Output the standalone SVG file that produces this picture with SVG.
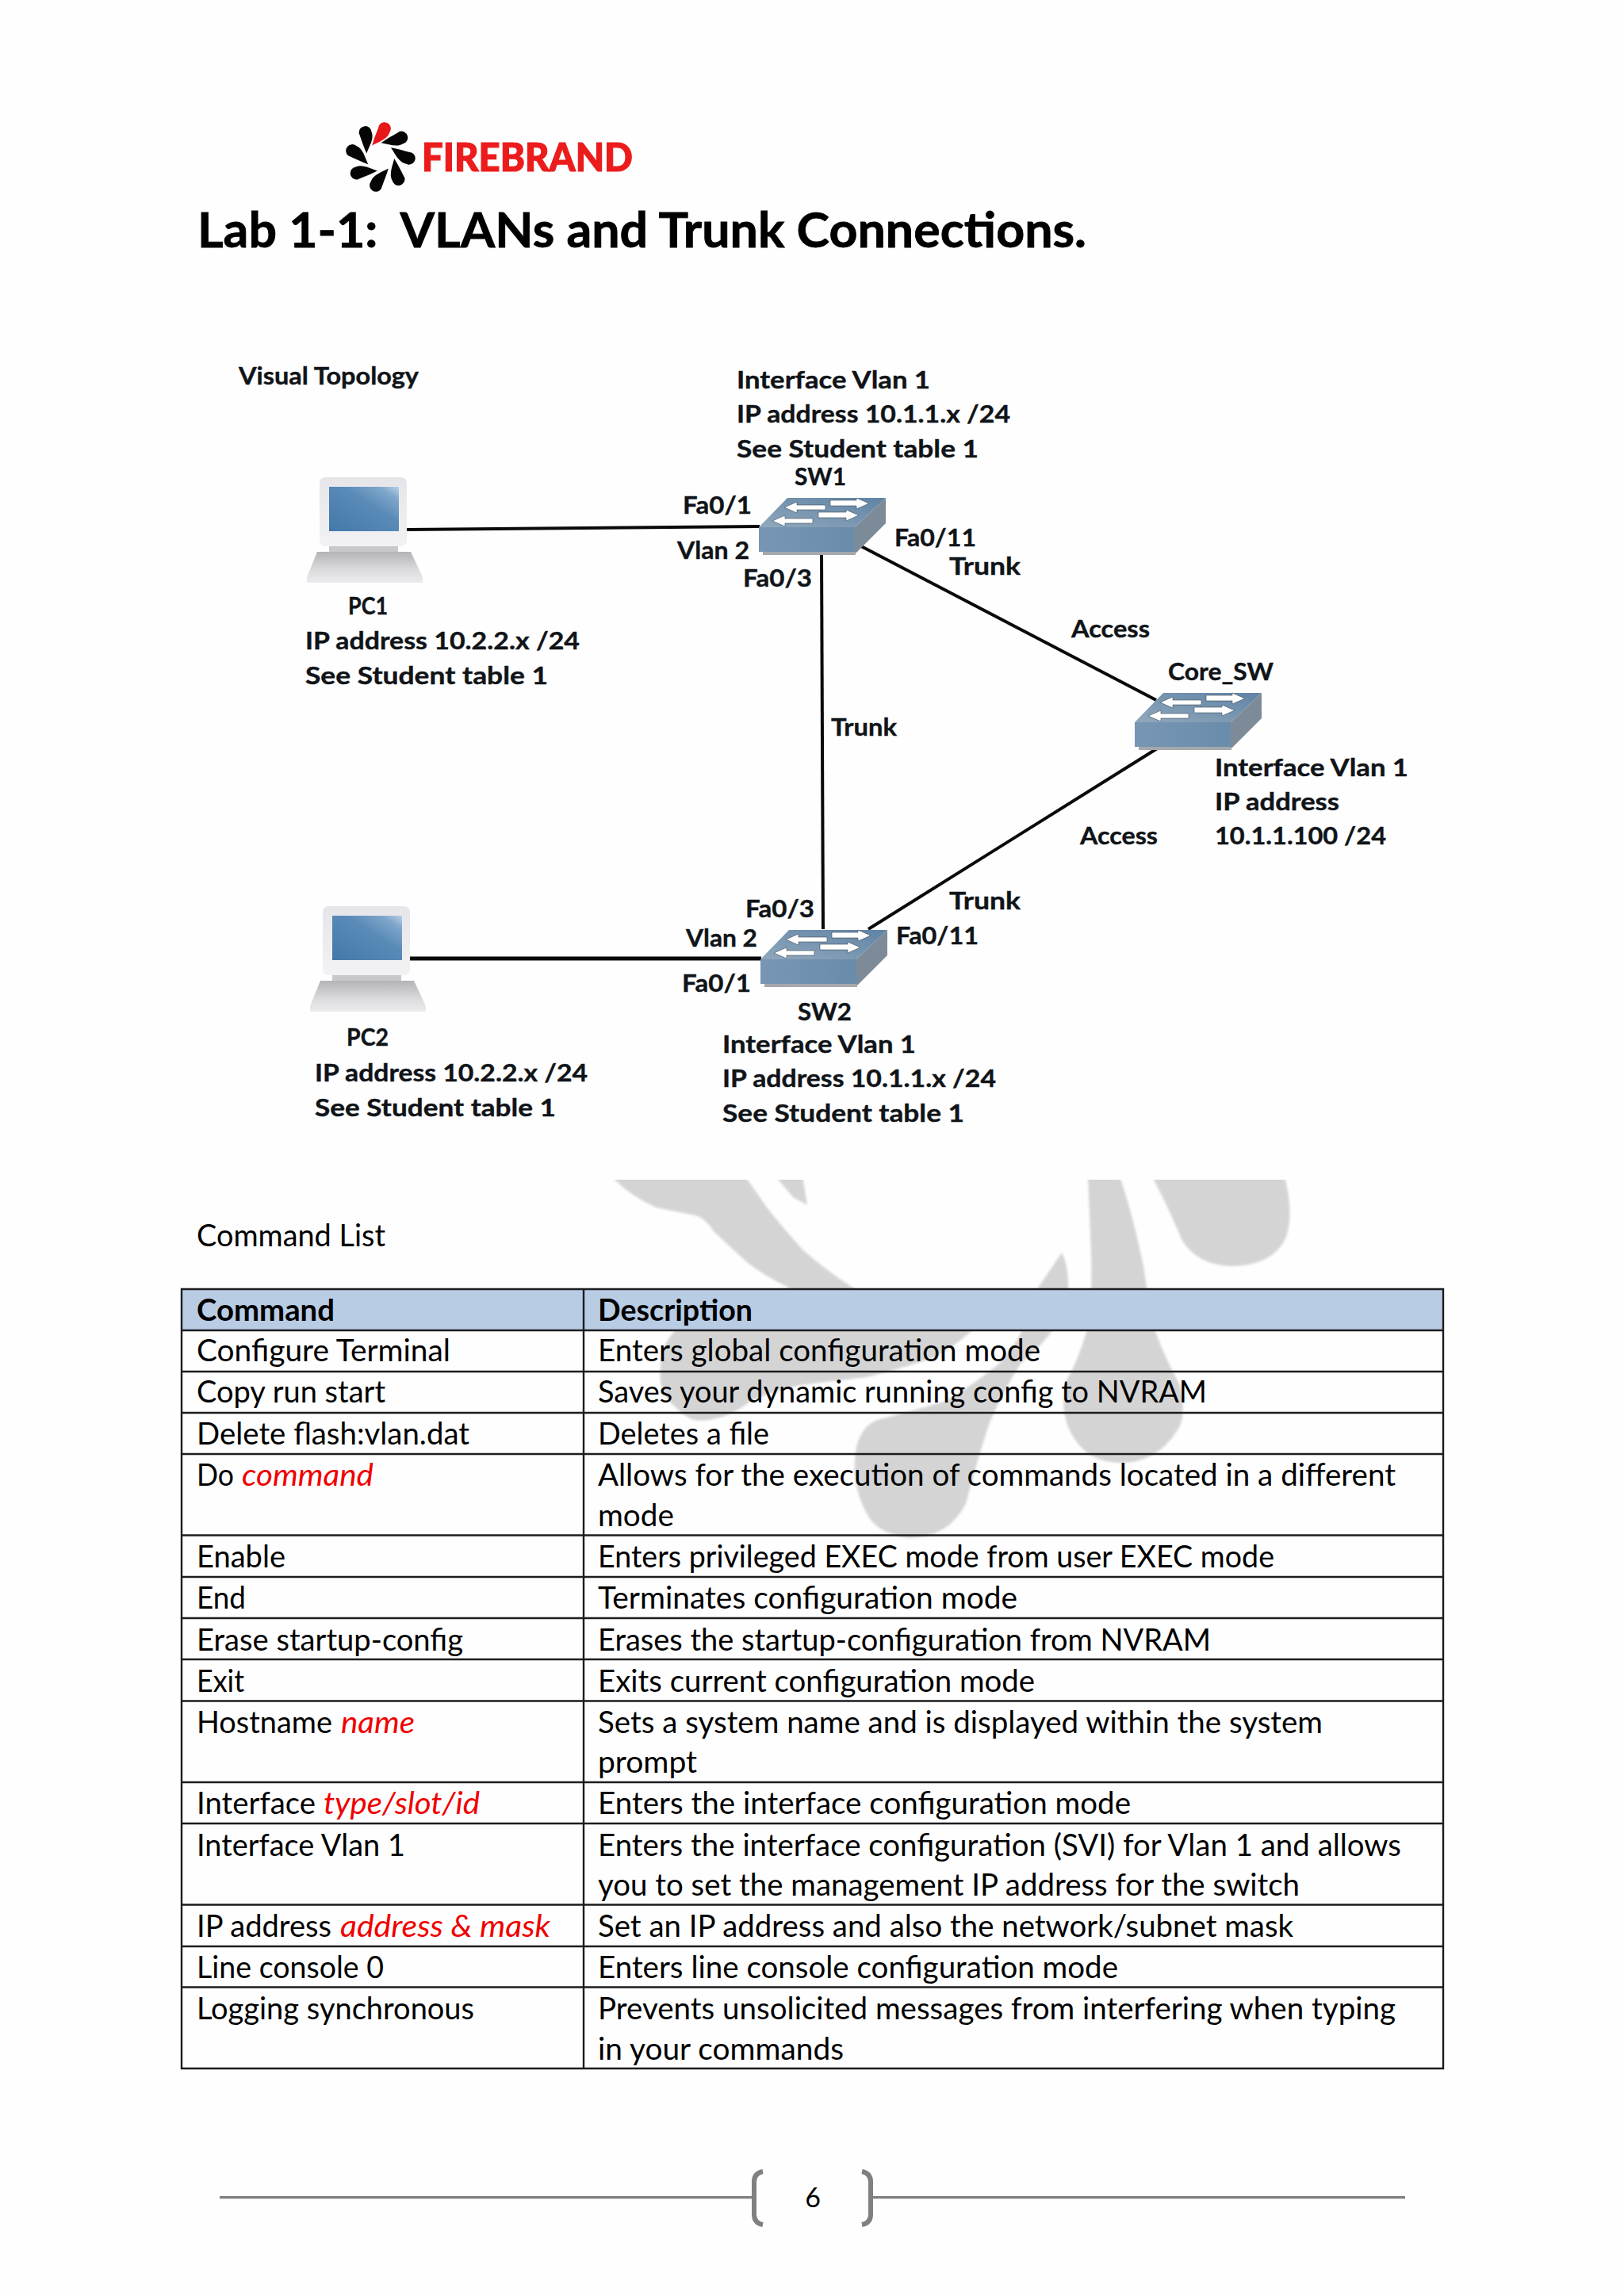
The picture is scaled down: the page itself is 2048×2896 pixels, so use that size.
<svg xmlns="http://www.w3.org/2000/svg" xmlns:xlink="http://www.w3.org/1999/xlink" width="2048" height="2896" viewBox="0 0 2048 2896">
<style>
text{font-family:"Lato","Liberation Sans",sans-serif;fill:#000}
.b{font-size:38px}
.h{font-size:38px;font-weight:700}
.r{font-size:38px;font-style:italic;fill:#f00000}
.n{font-size:31px;font-weight:700;fill:#101418;stroke:#101418;stroke-width:.4}
.rule{stroke:#1c1c20;stroke-width:2.4;fill:none}
.wm{fill:#d4d4d5}
.link{stroke:#0a0a0a;fill:none}
.foot{stroke:#808082;fill:none}
.arw{fill:#fff;stroke:#3c4a58;stroke-width:.6}
</style>
<defs>
<filter id="soft" x="-5%" y="-5%" width="110%" height="110%"><feGaussianBlur stdDeviation="1.6"/></filter>
<clipPath id="wmclip"><rect x="0" y="1488" width="2048" height="600"/></clipPath>
<linearGradient id="scr" x1="0" y1="1" x2="1" y2="0"><stop offset="0" stop-color="#4378a8"/><stop offset=".6" stop-color="#5a8bb8"/><stop offset=".85" stop-color="#7fa6cb"/><stop offset="1" stop-color="#b9d0e6"/></linearGradient>
<linearGradient id="mon" x1="0" y1="0" x2="0" y2="1"><stop offset="0" stop-color="#e6e6ea"/><stop offset="1" stop-color="#f2f2f4"/></linearGradient>
<linearGradient id="base" x1="0" y1="0" x2="0" y2="1"><stop offset="0" stop-color="#b4b4b8"/><stop offset=".6" stop-color="#dcdcde"/><stop offset="1" stop-color="#ececee"/></linearGradient>
<linearGradient id="swt" x1="0" y1="1" x2="1" y2="0"><stop offset="0" stop-color="#90a8bc"/><stop offset="1" stop-color="#5f83a5"/></linearGradient>
<linearGradient id="swf" x1="0" y1="0" x2="1" y2="0"><stop offset="0" stop-color="#7796b4"/><stop offset="1" stop-color="#6a8cab"/></linearGradient>
<g id="sw">
<path d="M5 68H122V72H5Z" fill="#a4a8ac"/>
<path d="M0 37L36 0H160L121 37Z" fill="url(#swt)"/>
<path d="M0 37H121V68H0Z" fill="url(#swf)"/>
<path d="M121 37L160 0V32L123 69H121Z" fill="#7d8b99"/>
<path class="arw" d="M32 12L48 5V9H84V15H48V19Z"/>
<path class="arw" d="M139 7L123 0V3H90V10H123V14Z"/>
<path class="arw" d="M17 29L33 22V26H68V32H33V36Z"/>
<path class="arw" d="M126 22L110 15V18H75V25H110V29Z"/>
</g>
<g id="pc">
<path d="M28 86H115V96H28Z" fill="#c8c8cc"/>
<path d="M13 94H131L146 126V133H0V126Z" fill="url(#base)"/>
<rect x="16" y="0" width="110" height="87" rx="7" fill="url(#mon)"/>
<rect x="28" y="12" width="88" height="56" fill="url(#scr)"/>
</g>
<path id="arm" d="M-11-14C-3-19 8-23 10.2-31.6A8 8 0 1 0-3.2-40.4C-6-31-9-23-11-14Z"/>
</defs>
<rect width="2048" height="2896" fill="#fefefe"/>

<g id="watermark" clip-path="url(#wmclip)">
<g filter="url(#soft)">
<path class="wm" d="M775 1484H940L967 1523Q990 1552 1013 1577Q1045 1605 1077 1625L1110 1660L1040 1680L993 1623Q965 1610 943 1593Q920 1572 900 1553Q890 1537 877 1533L827 1523Q795 1508 775 1488Z"/>
<path class="wm" d="M978 1484H1012L1018 1520L1000 1510Z"/>
<path class="wm" d="M1453 1484H1620Q1632 1530 1622 1560Q1606 1597 1551 1597Q1510 1595 1491 1565Q1478 1535 1471 1520Z"/>
<path class="wm" d="M1372 1484H1412Q1428 1530 1442 1597Q1448 1640 1456 1677Q1470 1715 1488 1747Q1497 1790 1484 1805Q1459 1845 1413 1845Q1375 1845 1355 1815Q1335 1785 1344 1743Q1360 1715 1370 1680Q1378 1640 1376 1580Z"/>
<path class="wm" d="M1339 1580Q1350 1600 1346 1640Q1335 1680 1287 1720Q1262 1760 1247 1797Q1230 1850 1218 1897Q1195 1940 1146 1940Q1105 1935 1092 1907Q1072 1870 1080 1825Q1088 1795 1110 1790Q1150 1780 1193 1767Q1230 1745 1260 1720Q1290 1690 1310 1623Z"/>
<path class="wm" d="M850 1680Q830 1700 833 1743Q838 1765 850 1773Q865 1790 880 1792Q915 1792 947 1767Q975 1755 1010 1747Q1050 1742 1093 1737Q1140 1725 1177 1713Q1210 1695 1240 1665L1230 1640H880Z"/>
</g>
</g>

<g id="logo">
<g transform="translate(479.5 198)" fill="#050505">
<use xlink:href="#arm" href="#arm" transform="rotate(3)" fill="#e81818"/>
<use xlink:href="#arm" href="#arm" transform="rotate(-37)"/>
<use xlink:href="#arm" href="#arm" transform="rotate(42)"/>
<use xlink:href="#arm" href="#arm" transform="rotate(87)"/>
<use xlink:href="#arm" href="#arm" transform="rotate(135)"/>
<use xlink:href="#arm" href="#arm" transform="rotate(183)"/>
<use xlink:href="#arm" href="#arm" transform="rotate(230)"/>
<use xlink:href="#arm" href="#arm" transform="rotate(277)"/>
</g>
<text x="532" y="216" textLength="266" lengthAdjust="spacingAndGlyphs" style="font-size:50px;font-weight:900;fill:#ec1c1c;stroke:#ec1c1c;stroke-width:1.2">FIREBRAND</text>
</g>

<text id="title" x="249" y="312" textLength="1121" lengthAdjust="spacingAndGlyphs" xml:space="preserve" style="font-size:61px;font-weight:700;stroke:#000;stroke-width:.8;white-space:pre">Lab 1-1:  VLANs and Trunk Connections.</text>
<text id="topology-title" class="n" x="301" y="485" textLength="227" lengthAdjust="spacingAndGlyphs">Visual Topology</text>

<g id="connectors">
<line class="link" x1="513" y1="668" x2="958" y2="664" stroke-width="4"/>
<line class="link" x1="1036" y1="697" x2="1038" y2="1172" stroke-width="4"/>
<line class="link" x1="1086" y1="689" x2="1458" y2="883" stroke-width="4"/>
<line class="link" x1="1461" y1="943" x2="1095" y2="1172" stroke-width="4"/>
<line class="link" x1="517" y1="1209" x2="960" y2="1209" stroke-width="5"/>
</g>

<g id="PC1">
<use xlink:href="#pc" href="#pc" x="387" y="602"/>
<text class="n" x="439" y="775" textLength="50" lengthAdjust="spacingAndGlyphs">PC1</text>
<text class="n" x="385" y="819" textLength="346" lengthAdjust="spacingAndGlyphs">IP address 10.2.2.x /24</text>
<text class="n" x="385" y="863" textLength="306" lengthAdjust="spacingAndGlyphs">See Student table 1</text>
</g>
<g id="PC2">
<use xlink:href="#pc" href="#pc" x="391" y="1143"/>
<text class="n" x="437" y="1319" textLength="53" lengthAdjust="spacingAndGlyphs">PC2</text>
<text class="n" x="397" y="1364" textLength="344" lengthAdjust="spacingAndGlyphs">IP address 10.2.2.x /24</text>
<text class="n" x="397" y="1408" textLength="304" lengthAdjust="spacingAndGlyphs">See Student table 1</text>
</g>
<g id="SW1">
<use xlink:href="#sw" href="#sw" x="957" y="628"/>
<text class="n" x="929" y="490" textLength="244" lengthAdjust="spacingAndGlyphs">Interface Vlan 1</text>
<text class="n" x="929" y="533" textLength="345" lengthAdjust="spacingAndGlyphs">IP address 10.1.1.x /24</text>
<text class="n" x="929" y="577" textLength="305" lengthAdjust="spacingAndGlyphs">See Student table 1</text>
<text class="n" x="1002" y="612" textLength="65" lengthAdjust="spacingAndGlyphs">SW1</text>
<text class="n" x="861" y="648" textLength="87" lengthAdjust="spacingAndGlyphs">Fa0/1</text>
<text class="n" x="854" y="705" textLength="91" lengthAdjust="spacingAndGlyphs">Vlan 2</text>
<text class="n" x="937" y="740" textLength="87" lengthAdjust="spacingAndGlyphs">Fa0/3</text>
<text class="n" x="1128" y="689" textLength="103" lengthAdjust="spacingAndGlyphs">Fa0/11</text>
<text class="n" x="1197" y="725" textLength="90" lengthAdjust="spacingAndGlyphs">Trunk</text>
</g>
<g id="Core_SW">
<use xlink:href="#sw" href="#sw" x="1431" y="874"/>
<text class="n" x="1473" y="858" textLength="133" lengthAdjust="spacingAndGlyphs">Core_SW</text>
<text class="n" x="1351" y="804" textLength="99" lengthAdjust="spacingAndGlyphs">Access</text>
<text class="n" x="1362" y="1065" textLength="98" lengthAdjust="spacingAndGlyphs">Access</text>
<text class="n" x="1532" y="979" textLength="244" lengthAdjust="spacingAndGlyphs">Interface Vlan 1</text>
<text class="n" x="1532" y="1022" textLength="157" lengthAdjust="spacingAndGlyphs">IP address</text>
<text class="n" x="1532" y="1065" textLength="216" lengthAdjust="spacingAndGlyphs">10.1.1.100 /24</text>
</g>
<g id="SW2">
<use xlink:href="#sw" href="#sw" x="959" y="1173"/>
<text class="n" x="1048" y="928" textLength="83" lengthAdjust="spacingAndGlyphs">Trunk</text>
<text class="n" x="1197" y="1147" textLength="90" lengthAdjust="spacingAndGlyphs">Trunk</text>
<text class="n" x="940" y="1157" textLength="87" lengthAdjust="spacingAndGlyphs">Fa0/3</text>
<text class="n" x="1130" y="1191" textLength="104" lengthAdjust="spacingAndGlyphs">Fa0/11</text>
<text class="n" x="865" y="1194" textLength="90" lengthAdjust="spacingAndGlyphs">Vlan 2</text>
<text class="n" x="860" y="1251" textLength="87" lengthAdjust="spacingAndGlyphs">Fa0/1</text>
<text class="n" x="1006" y="1287" textLength="68" lengthAdjust="spacingAndGlyphs">SW2</text>
<text class="n" x="911" y="1328" textLength="244" lengthAdjust="spacingAndGlyphs">Interface Vlan 1</text>
<text class="n" x="911" y="1371" textLength="345" lengthAdjust="spacingAndGlyphs">IP address 10.1.1.x /24</text>
<text class="n" x="911" y="1415" textLength="305" lengthAdjust="spacingAndGlyphs">See Student table 1</text>
</g>

<text id="command-list" class="b" x="248" y="1572" textLength="238" lengthAdjust="spacingAndGlyphs">Command List</text>

<g id="table">
<rect x="229" y="1626" width="1591" height="52" fill="#b8cce4"/>
<path class="rule" d="M229 1626H1820V2609H229ZM736 1626V2609M229 1678H1820M229 1730H1820M229 1782H1820M229 1834H1820M229 1936.5H1820M229 1989H1820M229 2041H1820M229 2093H1820M229 2145.5H1820M229 2248H1820M229 2300H1820M229 2402.5H1820M229 2455H1820M229 2506.5H1820"/>
<g id="col-command">
<text class="h" x="248" y="1666" textLength="174" lengthAdjust="spacingAndGlyphs">Command</text>
<text class="b" x="248" y="1717" textLength="320" lengthAdjust="spacingAndGlyphs">Configure Terminal</text>
<text class="b" x="248" y="1769" textLength="238" lengthAdjust="spacingAndGlyphs">Copy run start</text>
<text class="b" x="248" y="1822" textLength="344" lengthAdjust="spacingAndGlyphs">Delete flash:vlan.dat</text>
<text class="b" x="248" y="1874" textLength="47" lengthAdjust="spacingAndGlyphs">Do</text>
<text class="r" x="305" y="1874" textLength="166" lengthAdjust="spacingAndGlyphs">command</text>
<text class="b" x="248" y="1977" textLength="112" lengthAdjust="spacingAndGlyphs">Enable</text>
<text class="b" x="248" y="2029" textLength="62" lengthAdjust="spacingAndGlyphs">End</text>
<text class="b" x="248" y="2082" textLength="336" lengthAdjust="spacingAndGlyphs">Erase startup-config</text>
<text class="b" x="248" y="2134" textLength="60" lengthAdjust="spacingAndGlyphs">Exit</text>
<text class="b" x="248" y="2186" textLength="171" lengthAdjust="spacingAndGlyphs">Hostname</text>
<text class="r" x="430" y="2186" textLength="93" lengthAdjust="spacingAndGlyphs">name</text>
<text class="b" x="248" y="2288" textLength="150" lengthAdjust="spacingAndGlyphs">Interface</text>
<text class="r" x="408" y="2288" textLength="197" lengthAdjust="spacingAndGlyphs">type/slot/id</text>
<text class="b" x="248" y="2341" textLength="263" lengthAdjust="spacingAndGlyphs">Interface Vlan 1</text>
<text class="b" x="248" y="2443" textLength="170" lengthAdjust="spacingAndGlyphs">IP address</text>
<text class="r" x="429" y="2443" textLength="265" lengthAdjust="spacingAndGlyphs">address &amp; mask</text>
<text class="b" x="248" y="2495" textLength="236" lengthAdjust="spacingAndGlyphs">Line console 0</text>
<text class="b" x="248" y="2547" textLength="350" lengthAdjust="spacingAndGlyphs">Logging synchronous</text>
</g>
<g id="col-description">
<text class="h" x="754" y="1666" textLength="195" lengthAdjust="spacingAndGlyphs">Description</text>
<text class="b" x="754" y="1717" textLength="558" lengthAdjust="spacingAndGlyphs">Enters global configuration mode</text>
<text class="b" x="754" y="1769" textLength="768" lengthAdjust="spacingAndGlyphs">Saves your dynamic running config to NVRAM</text>
<text class="b" x="754" y="1822" textLength="216" lengthAdjust="spacingAndGlyphs">Deletes a file</text>
<text class="b" x="754" y="1874" textLength="1006" lengthAdjust="spacingAndGlyphs">Allows for the execution of commands located in a different</text>
<text class="b" x="754" y="1925" textLength="96" lengthAdjust="spacingAndGlyphs">mode</text>
<text class="b" x="754" y="1977" textLength="853" lengthAdjust="spacingAndGlyphs">Enters privileged EXEC mode from user EXEC mode</text>
<text class="b" x="754" y="2029" textLength="529" lengthAdjust="spacingAndGlyphs">Terminates configuration mode</text>
<text class="b" x="754" y="2082" textLength="773" lengthAdjust="spacingAndGlyphs">Erases the startup-configuration from NVRAM</text>
<text class="b" x="754" y="2134" textLength="551" lengthAdjust="spacingAndGlyphs">Exits current configuration mode</text>
<text class="b" x="754" y="2186" textLength="914" lengthAdjust="spacingAndGlyphs">Sets a system name and is displayed within the system</text>
<text class="b" x="754" y="2236" textLength="125" lengthAdjust="spacingAndGlyphs">prompt</text>
<text class="b" x="754" y="2288" textLength="672" lengthAdjust="spacingAndGlyphs">Enters the interface configuration mode</text>
<text class="b" x="754" y="2341" textLength="1013" lengthAdjust="spacingAndGlyphs">Enters the interface configuration (SVI) for Vlan 1 and allows</text>
<text class="b" x="754" y="2391" textLength="885" lengthAdjust="spacingAndGlyphs">you to set the management IP address for the switch</text>
<text class="b" x="754" y="2443" textLength="877" lengthAdjust="spacingAndGlyphs">Set an IP address and also the network/subnet mask</text>
<text class="b" x="754" y="2495" textLength="656" lengthAdjust="spacingAndGlyphs">Enters line console configuration mode</text>
<text class="b" x="754" y="2547" textLength="1006" lengthAdjust="spacingAndGlyphs">Prevents unsolicited messages from interfering when typing</text>
<text class="b" x="754" y="2598" textLength="310" lengthAdjust="spacingAndGlyphs">in your commands</text>
</g>
</g>

<g id="footer">
<path class="foot" stroke-width="3.2" d="M277 2771.7H950M1098 2771.7H1772"/>
<path class="foot" stroke-width="6" d="M962 2739Q951 2741 951 2752V2793Q951 2804 962 2806M1087 2739Q1098 2741 1098 2752V2793Q1098 2804 1087 2806"/>
<text x="1025" y="2784" text-anchor="middle" style="font-size:34px">6</text>
</g>
</svg>
